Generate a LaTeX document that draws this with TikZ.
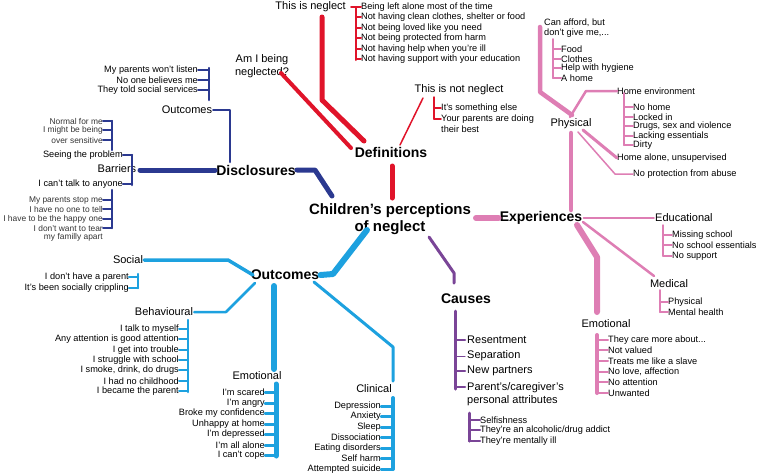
\documentclass[tikz,border=0pt]{standalone}
\usepackage{fontspec}
\setmainfont{Liberation Sans}
\begin{document}
\definecolor{cr}{HTML}{E0142A}
\definecolor{cn}{HTML}{2B3990}
\definecolor{cp}{HTML}{DE7EB4}
\definecolor{cc}{HTML}{1DA1DF}
\definecolor{cv}{HTML}{7A4597}
\begin{tikzpicture}[x=1pt,y=-1pt,
 item/.style={inner sep=0pt,font=\fontsize{9.2}{10}\selectfont},
 cat/.style={inner sep=1pt,font=\fontsize{11}{12.5}\selectfont},
 main/.style={inner sep=1pt,font=\fontsize{14}{15}\selectfont\bfseries},
 line cap=round,line join=round]
\useasboundingbox (0,0) rectangle (760,475);
\newcommand\myrl[5]{\foreach \yy/\txt in {#5}{\node[item,anchor=west] at (#4,\yy){\txt};\draw[#1,line width=#2](#3,\yy)--(#4,\yy);}}
\newcommand\myll[5]{\foreach \yy/\txt in {#5}{\node[item,anchor=east] at (#4,\yy){\txt};\draw[#1,line width=#2](#3,\yy)--(#4,\yy);}}
% centre
\node[main,align=center,font=\fontsize{15}{17}\selectfont\bfseries] (c) at (390,219) {Children’s perceptions\\of neglect};
% ---------- Definitions
\node[main] (def) at (391,152) {Definitions};
\draw[cr,line width=5pt] (392,166)--(392,198);
\node[cat,anchor=east] (tin) at (347,7) {This is neglect};
\draw[cr,line width=5pt] (322,17)--(322,100)--(364,141);
\node[cat,align=center] (am) at (262,66) {Am I being\\neglected?};
\draw[cr,line width=4pt] (281,73)--(351,148);
\draw[cr,line width=2pt] (351,7)--(356,7) (356,7)--(356,60);
\myrl{cr}{2pt}{356}{361}{7/Being left alone most of the time,17/{Not having clean clothes, shelter or food},28/Not being loved like you need,38/Not being protected from harm,49/Not having help when you’re ill,59/Not having support with your education}
\node[cat] (tnn) at (459,90) {This is not neglect};
\draw[cr,line width=1.5pt] (423,98)--(400,145);
\draw[cr,line width=1.5pt] (434,97)--(434,119);
\myrl{cr}{1.5pt}{434}{441}{108/It’s something else,119/Your parents are doing}
\node[item,anchor=west] at (441,129) {their best};
% ---------- Disclosures
\node[main] (dis) at (256,170) {Disclosures};
\draw[cn,line width=5pt] (dis.east)--(315,170)--(332,196);
\draw[cn,line width=5pt] (dis.west)--(140,170);
\node[cat] (bar) at (117,169) {Barriers};
\node[cat] (dout) at (187,110) {Outcomes};
\draw[cn,line width=2.5pt] (dout.east)--(230,110)--(230,162);
\draw[cn,line width=2.5pt] (209,68)--(209,100);
\myll{cn}{2pt}{209}{198}{70/My parents won’t listen,80/No one believes me,90/They told social services}
\draw[cn,line width=2.5pt] (132,155)--(132,185);
\myll{cn}{2.5pt}{132}{123}{155/Seeing the problem,184/I can’t talk to anyone}
\begin{scope}[item/.append style={font=\fontsize{8.4}{9}\selectfont,text=black!80}]
\draw[cn,line width=2.5pt] (112,121)--(112,150);
\myll{cn}{2pt}{112}{103}{121/Normal for me,130/I might be being,140/over sensitive}
\draw[cn,line width=2.5pt] (112,190)--(112,228);
\myll{cn}{2pt}{112}{103}{200/My parents stop me,209/I have no one to tell,219/I have to be the happy one,228/I don’t want to tear}
\node[item,anchor=east] at (103,237) {my familly apart};
\end{scope}
% ---------- Experiences
\node[main] (exp) at (541,218) {Experiences};
\draw[cp,line width=6pt] (exp.west)--(476,218);
\node[cat] (phy) at (571,124) {Physical};
\draw[cp,line width=4.5pt] (571,133)--(571,210);
\draw[cp,line width=4.5pt] (572,115)--(540,92)--(540,27);
\node[item,anchor=west,align=left] (caf) at (544,28) {Can afford, but\\don’t give me,...};
\draw[cp,line width=2pt] (553,39)--(553,78);
\myrl{cp}{2pt}{553}{561}{49/Food,59/Clothes,68/Help with hygiene,78/A home}
\node[item,anchor=west] (he) at (617,91) {Home environment};
\draw[cp,line width=2.5pt] (570,117)--(586,91)--(he.west);
\draw[cp,line width=2pt] (624,93)--(624,145);
\myrl{cp}{2pt}{624}{633}{107/No home,117/Locked in,126/{Drugs, sex and violence},136/Lacking essentials,145/Dirty}
\node[item,anchor=west] (ha) at (617,158) {Home alone, unsupervised};
\draw[cp,line width=3pt] (583,130)--(ha.west);
\node[item,anchor=west] (np) at (633,174) {No protection from abuse};
\draw[cp,line width=1.5pt] (578,132)--(615,174)--(np.west);
\node[cat,anchor=west] (edu) at (654,218) {Educational};
\draw[cp,line width=1.5pt] (exp.east)--(edu.west);
\draw[cp,line width=1.5pt] (663,225)--(663,256);
\myrl{cp}{1.5pt}{663}{672}{235/Missing school,245/No school essentials,256/No support}
\node[cat] (med) at (669,284) {Medical};
\draw[cp,line width=2.5pt] (583,222)--(654,276);
\draw[cp,line width=2pt] (660,290)--(660,312);
\myrl{cp}{2pt}{660}{668}{302/Physical,312/Mental health}
\node[cat] (emo) at (606,324) {Emotional};
\draw[cp,line width=6pt] (577,225)--(597,257)--(597,312);
\draw[cp,line width=4pt] (597,335)--(597,393);
\myrl{cp}{2pt}{597}{608}{340/{They care more about...},350/Not valued,361/Treats me like a slave,372/{No love, affection},382/No attention,393/Unwanted}
% ---------- Causes
\node[main] (cau) at (466,299) {Causes};
\draw[cv,line width=3pt] (429,237)--(454,273)--(454,283);
\draw[cv,line width=3pt] (455,311)--(455,389);
\node[cat,anchor=west] at (466,340) {Resentment};
\node[cat,anchor=west] at (466,356) {Separation};
\node[cat,anchor=west] at (466,371) {New partners};
\node[cat,anchor=west,align=left] at (466,394) {Parent’s/caregiver’s\\personal attributes};
\foreach \yy in {340,371,387}{\draw[cv,line width=2.5pt](455,\yy)--(465,\yy);}
\draw[cv,line width=1pt](455,356)--(465,356);
\draw[cv,line width=3pt] (469,413)--(469,441);
\myrl{cv}{2.5pt}{469}{480}{420/Selfishness,430/{They’re an alcoholic/drug addict},441/They’re mentally ill}
% ---------- Outcomes
\node[main] (out) at (285,275) {Outcomes};
\draw[cc,line width=6pt] (out.east)--(333,274)--(367,230);
\node[cat] (soc) at (128,260) {Social};
\draw[cc,line width=3.5pt] (soc.east)--(228,260)--(253,275);
\draw[cc,line width=2.5pt] (138,274)--(138,288);
\myll{cc}{2.5pt}{138}{129}{277/I don’t have a parent,288/It’s been socially crippling}
\node[cat] (beh) at (164,312) {Behavioural};
\draw[cc,line width=2.5pt] (beh.east)--(226,312)--(255,283);
\draw[cc,line width=2.5pt] (188,320)--(188,392);
\myll{cc}{2pt}{188}{179}{329/I talk to myself,339/Any attention is good attention,350/I get into trouble,360/I struggle with school,{370}/{I smoke, drink, do drugs},381/I had no childhood,391/I became the parent}
\node[cat] (oemo) at (257,376) {Emotional};
\draw[cc,line width=6pt] (274,286)--(274,369);
\draw[cc,line width=5pt] (276,384)--(276,456);
\myll{cc}{3pt}{276}{265}{392/I’m scared,403/I’m angry,413/Broke my confidence,424/Unhappy at home,434/I’m depressed,445/I’m all alone,455/I can’t cope}
\node[cat] (cli) at (374,389) {Clinical};
\draw[cc,line width=3pt] (314,282)--(393,347)--(393,381);
\draw[cc,line width=4pt] (393,398)--(393,469);
\myll{cc}{3pt}{393}{381}{406/Depression,416/Anxiety,427/Sleep,437/Dissociation,448/Eating disorders,458/Self harm,469/Attempted suicide}
\end{tikzpicture}
\end{document}
